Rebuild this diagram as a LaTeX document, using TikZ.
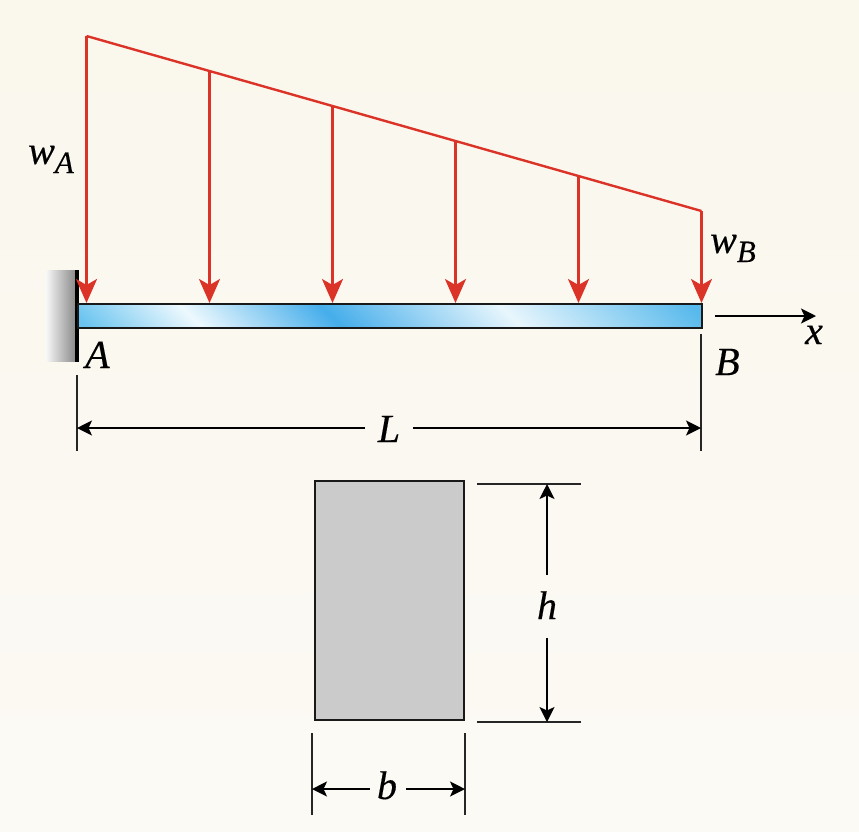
\documentclass[tikz,border=0pt]{standalone}
\usepackage{fontspec}
\setmainfont{Liberation Serif}[ItalicFeatures={FakeBold=0.35}]
\usetikzlibrary{arrows.meta}
\definecolor{loadred}{HTML}{DB3327}
\definecolor{secgray}{HTML}{CBCBCB}
\pgfdeclarehorizontalshading{beamshade}{100bp}{
  rgb(0bp)=(0.42,0.77,0.94);
  rgb(127bp)=(0.42,0.77,0.94);
  rgb(240bp)=(0.93,0.975,0.995);
  rgb(380bp)=(0.27,0.68,0.92);
  rgb(560bp)=(0.91,0.965,0.99);
  rgb(752bp)=(0.34,0.725,0.925);
  rgb(900bp)=(0.34,0.725,0.925)}
\pgfdeclareverticalshading{pageshade}{100bp}{
  rgb(0bp)=(0.992,0.988,0.973);
  rgb(50bp)=(0.984,0.973,0.945);
  rgb(100bp)=(0.973,0.961,0.91)}
\tikzset{
  loadline/.style={draw=loadred,line width=2.4pt},
  loadarrow/.style={loadline,-{Stealth[length=24pt,width=21pt,inset=6pt]}},
  dimline/.style={draw=black,line width=1.6pt,-{Stealth[length=15pt,width=15pt,inset=3.5pt]}},
  extline/.style={draw=black!85,line width=1.6pt},
  lab/.style={inner sep=0pt,font=\fontsize{40}{40}\selectfont\itshape}
}
\newcommand{\subtxt}[1]{\raisebox{-9pt}{\fontsize{31}{31}\selectfont\itshape #1}}
\begin{document}
\begin{tikzpicture}[x=1pt,y=-1pt]
\useasboundingbox (0,0) rectangle (859,831);
\shade[shading=pageshade] (0,0) rectangle (859,831);
% wall
\shade[left color=black!3,right color=black!45] (46,270) rectangle (75,361);
\fill[black] (74.5,270) rectangle (78.5,362);
% beam
\begin{scope}
\clip (77,303) rectangle (702,328);
\pgflowlevelobj{\pgftransformcm{0.99626}{0}{-0.3}{0.3}{\pgfpoint{400pt}{-315.5pt}}}{\pgfuseshading{beamshade}}
\end{scope}
\node[draw=black!90,line width=1.8pt,inner sep=0pt,minimum width=624pt,minimum height=24.4pt,anchor=north west] (beam) at (77,303) {};
% load
\coordinate (t0) at (86.5,36);
\coordinate (t1) at (209.5,71);
\coordinate (t2) at (332.5,106);
\coordinate (t3) at (455.5,141);
\coordinate (t4) at (578.5,176);
\coordinate (t5) at (701.5,211);
\coordinate (b0) at (86.5,303);
\coordinate (b1) at (209.5,303);
\coordinate (b2) at (332.5,303);
\coordinate (b3) at (455.5,303);
\coordinate (b4) at (578.5,303);
\coordinate (b5) at (701.5,303);
\draw[loadline,line join=round] (t0) -- (t5);
\foreach \i in {0,...,5} \draw[loadarrow] (t\i) -- (b\i);
% labels
\node[lab,anchor=base west] (wA) at (28,164) {w\subtxt{A}};
\node[lab,anchor=base west] (wB) at (710,253) {w\subtxt{B}};
\node[lab,anchor=base west] (la) at (85,368) {A};
\node[lab,anchor=base west] (lb) at (715,375) {B};
\node[lab,anchor=base] (lx) at (814,344) {x};
% x axis
\coordinate (xs) at (715,316);
\coordinate (xe) at (816,316);
\draw[dimline] (xs) -- (xe);
% L dimension
\coordinate (la1) at (77,375);
\coordinate (la2) at (77,451);
\coordinate (lb1) at (701,334);
\coordinate (lb2) at (701,451);
\coordinate (ld1) at (77,428);
\coordinate (ld2) at (701,428);
\draw[extline] (la1) -- (la2);
\draw[extline] (lb1) -- (lb2);
\node[lab,anchor=base] (L) at (389,442) {L};
\coordinate (lg1) at (365,428);
\coordinate (lg2) at (413,428);
\draw[dimline] (lg1) -- (ld1);
\draw[dimline] (lg2) -- (ld2);
% section
\node[draw=black!90,fill=secgray,line width=2pt,inner sep=0pt,minimum width=149pt,minimum height=239pt,anchor=north west] (sec) at (313.9,479.9) {};
% h dimension
\coordinate (h1a) at (477,484);
\coordinate (h1b) at (581,484);
\coordinate (h2a) at (477,722);
\coordinate (h2b) at (581,722);
\draw[extline] (h1a) -- (h1b);
\draw[extline] (h2a) -- (h2b);
\node[lab,anchor=base] (h) at (547,619) {h};
\coordinate (hu) at (547,575);
\coordinate (hut) at (547,484);
\coordinate (hd) at (547,638);
\coordinate (hdt) at (547,722);
\draw[dimline] (hu) -- (hut);
\draw[dimline] (hd) -- (hdt);
% b dimension
\coordinate (b1a) at (312,733);
\coordinate (b1b) at (312,815);
\coordinate (b2a) at (465,733);
\coordinate (b2b) at (465,815);
\draw[extline] (b1a) -- (b1b);
\draw[extline] (b2a) -- (b2b);
\node[lab,anchor=base] (bb) at (387,799) {b};
\coordinate (bl) at (370,789);
\coordinate (blt) at (312,789);
\coordinate (br) at (406,789);
\coordinate (brt) at (465,789);
\draw[dimline] (bl) -- (blt);
\draw[dimline] (br) -- (brt);
\end{tikzpicture}
\end{document}
